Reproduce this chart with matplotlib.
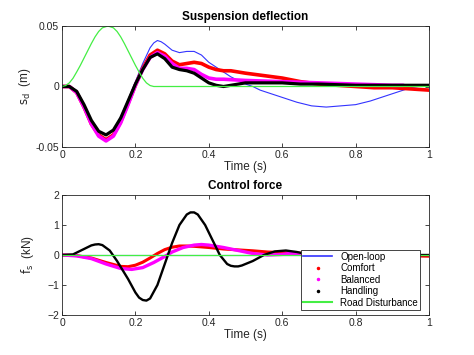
import matplotlib
matplotlib.use("Agg")
import matplotlib.pyplot as plt
from matplotlib.lines import Line2D

plt.rcParams['font.family'] = ['Liberation Sans', 'DejaVu Sans']

# ---- suspension deflection (m) ----
t_road = [0, 0.01, 0.02, 0.03, 0.04, 0.05, 0.06, 0.07, 0.08, 0.09, 0.10, 0.11, 0.125,
          0.14, 0.15, 0.16, 0.17, 0.18, 0.19, 0.20, 0.21, 0.22, 0.23, 0.24, 0.25, 1.0]
sd_road = [0, 0.0008, 0.003, 0.0068, 0.012, 0.0175, 0.0235, 0.0295, 0.0355, 0.041, 0.0455,
           0.0485, 0.050, 0.0485, 0.0455, 0.041, 0.0355, 0.0295, 0.0235, 0.0175, 0.012,
           0.0068, 0.003, 0.0008, 0, 0]

t_open = [0, 0.02, 0.04, 0.06, 0.08, 0.10, 0.12, 0.14, 0.16, 0.18, 0.20, 0.22, 0.24, 0.25,
          0.26, 0.27, 0.28, 0.30, 0.32, 0.34, 0.36, 0.38, 0.40, 0.42, 0.44, 0.46, 0.48, 0.50,
          0.52, 0.54, 0.56, 0.60, 0.64, 0.68, 0.72, 0.76, 0.80, 0.84, 0.88, 0.92, 0.95, 0.97, 1.0]
sd_open = [0, 0, -0.004, -0.015, -0.028, -0.037, -0.040, -0.036, -0.025, -0.011, 0.004, 0.019,
           0.032, 0.036, 0.038, 0.037, 0.035, 0.030, 0.028, 0.029, 0.029, 0.026, 0.020, 0.016,
           0.012, 0.008, 0.005, 0.002, 0.0, -0.003, -0.005, -0.009, -0.013, -0.016, -0.017,
           -0.016, -0.015, -0.012, -0.008, -0.004, -0.001, 0.0, 0.001]

t_comf = [0, 0.02, 0.04, 0.06, 0.08, 0.10, 0.12, 0.14, 0.16, 0.18, 0.20, 0.22, 0.24, 0.26,
          0.28, 0.30, 0.32, 0.34, 0.36, 0.38, 0.40, 0.42, 0.44, 0.46, 0.48, 0.50, 0.55, 0.60,
          0.65, 0.70, 0.75, 0.80, 0.85, 0.90, 0.95, 1.0]
sd_comf = [0, 0, -0.005, -0.017, -0.031, -0.040, -0.044, -0.040, -0.029, -0.014, 0.001, 0.015,
           0.026, 0.030, 0.027, 0.021, 0.018, 0.019, 0.020, 0.019, 0.016, 0.014, 0.013, 0.013,
           0.012, 0.011, 0.009, 0.007, 0.004, 0.002, 0.001, 0.0, -0.001, -0.001, -0.002, -0.003]

t_bal = [0, 0.02, 0.04, 0.06, 0.08, 0.10, 0.12, 0.14, 0.16, 0.18, 0.20, 0.22, 0.24, 0.26,
         0.28, 0.30, 0.32, 0.34, 0.36, 0.38, 0.40, 0.42, 0.44, 0.50, 0.60, 0.70, 0.80, 0.90, 0.93]
sd_bal = [0, 0, -0.005, -0.017, -0.031, -0.041, -0.045, -0.041, -0.030, -0.015, 0.001, 0.014,
          0.024, 0.028, 0.025, 0.019, 0.015, 0.015, 0.014, 0.010, 0.007, 0.006, 0.006, 0.005,
          0.004, 0.003, 0.002, 0.001, 0.001]

t_hand = [0, 0.02, 0.04, 0.06, 0.08, 0.10, 0.12, 0.14, 0.16, 0.18, 0.20, 0.22, 0.24, 0.26,
          0.28, 0.30, 0.32, 0.34, 0.36, 0.38, 0.40, 0.42, 0.44, 0.46, 0.48, 0.50, 0.55, 0.60,
          0.65, 0.70, 0.80, 0.90, 1.0]
sd_hand = [0, 0, -0.004, -0.015, -0.028, -0.037, -0.040, -0.036, -0.026, -0.012, 0.002, 0.014,
           0.024, 0.027, 0.023, 0.016, 0.014, 0.013, 0.011, 0.007, 0.003, 0.001, 0.0, 0.001,
           0.002, 0.003, 0.003, 0.003, 0.002, 0.002, 0.001, 0.001, 0.001]

# ---- control force (kN) ----
tf_open = [0, 1.0]
f_open = [0, 0]
tf_road = [0, 1.0]
f_road = [0, 0]

tf_comf = [0, 0.04, 0.08, 0.12, 0.16, 0.18, 0.20, 0.22, 0.24, 0.26, 0.28, 0.30, 0.32, 0.34,
           0.36, 0.40, 0.44, 0.48, 0.52, 0.56, 0.60, 0.65, 0.70, 0.80, 0.90, 1.0]
f_comf = [0, -0.02, -0.10, -0.25, -0.38, -0.39, -0.34, -0.24, -0.10, 0.05, 0.18, 0.26, 0.30,
          0.30, 0.29, 0.25, 0.20, 0.17, 0.14, 0.10, 0.08, 0.06, 0.05, 0.0, -0.02, -0.04]

tf_bal = [0, 0.04, 0.08, 0.12, 0.16, 0.19, 0.22, 0.25, 0.28, 0.30, 0.33, 0.36, 0.38, 0.40,
          0.44, 0.48, 0.52, 0.56, 0.60, 0.62, 0.66, 0.70]
f_bal = [0, -0.03, -0.12, -0.30, -0.45, -0.48, -0.42, -0.25, -0.05, 0.10, 0.25, 0.33, 0.35,
         0.33, 0.25, 0.15, 0.05, 0.0, 0.02, 0.05, 0.02, 0.0]

tf_hand = [0, 0.03, 0.06, 0.08, 0.09, 0.10, 0.11, 0.13, 0.15, 0.18, 0.20, 0.21, 0.22, 0.23,
           0.24, 0.26, 0.28, 0.30, 0.32, 0.34, 0.35, 0.36, 0.37, 0.39, 0.41, 0.43, 0.45,
           0.46, 0.47, 0.48, 0.49, 0.52, 0.55, 0.58, 0.61, 0.64, 0.67, 0.70, 1.0]
f_hand = [0, 0.02, 0.20, 0.32, 0.35, 0.36, 0.33, 0.15, -0.20, -0.80, -1.25, -1.42, -1.50,
          -1.52, -1.45, -1.00, -0.30, 0.40, 1.00, 1.35, 1.42, 1.42, 1.35, 1.00, 0.50, 0.0,
          -0.30, -0.36, -0.38, -0.38, -0.35, -0.20, 0.0, 0.12, 0.15, 0.10, 0.02, 0.0, 0.0]

fig = plt.figure(figsize=(4.74, 3.55), dpi=100)
ax1 = fig.add_axes([62 / 474, 1 - 147 / 355, 367 / 474, 121 / 355])
ax2 = fig.add_axes([62 / 474, 1 - 315 / 355, 367 / 474, 120 / 355])

blue, red, mag, blk, grn = '#3333ff', '#ff0000', '#ff00ff', '#000000', '#44ee44'

ax1.plot(t_open, sd_open, color=blue, lw=0.8)
ax1.plot(t_comf, sd_comf, color=red, lw=2.6, solid_capstyle='round')
ax1.plot(t_bal, sd_bal, color=mag, lw=2.6, solid_capstyle='round')
ax1.plot(t_hand, sd_hand, color=blk, lw=2.3, solid_capstyle='round')
ax1.plot(t_road, sd_road, color=grn, lw=0.9)

ax2.plot(tf_open, f_open, color=blue, lw=0.8)
ax2.plot(tf_comf, f_comf, color=red, lw=2.2, solid_capstyle='round')
ax2.plot(tf_bal, f_bal, color=mag, lw=2.4, solid_capstyle='round')
ax2.plot(tf_hand, f_hand, color=blk, lw=1.7, solid_capstyle='round')
ax2.plot(tf_road, f_road, color=grn, lw=0.9)

ax1.set_xlim(0, 1)
ax1.set_ylim(-0.05, 0.05)
ax1.set_yticks([-0.05, 0, 0.05])
ax1.set_yticklabels(['-0.05', '0', '0.05'])
ax2.set_xlim(0, 1)
ax2.set_ylim(-2, 2)
ax2.set_yticks([-2, -1, 0, 1, 2])

for ax in (ax1, ax2):
    ax.set_xticks([0, 0.2, 0.4, 0.6, 0.8, 1])
    ax.set_xticklabels(['0', '0.2', '0.4', '0.6', '0.8', '1'])
    ax.tick_params(direction='in', labelsize=7.5, length=3, width=0.6, top=True, right=True,
                   colors='#262626', pad=2)
    for s in ax.spines.values():
        s.set_linewidth(0.6)
        s.set_color('#262626')
    ax.set_xlabel('Time (s)', fontsize=8.5, labelpad=1, color='#262626')

ax1.set_title('Suspension deflection', fontsize=8.5, fontweight='bold', pad=4)
ax2.set_title('Control force', fontsize=8.5, fontweight='bold', pad=4)
ax1.set_ylabel(r'$\mathrm{s_d}$  (m)', fontsize=8.5, labelpad=2, color='#262626')
ax2.set_ylabel(r'$\mathrm{f_s}$  (kN)', fontsize=8.5, labelpad=8, color='#262626')

handles = [
    Line2D([], [], color=blue, lw=1.2),
    Line2D([], [], color=red, marker='.', ls='none', ms=3),
    Line2D([], [], color=mag, marker='.', ls='none', ms=3),
    Line2D([], [], color=blk, marker='.', ls='none', ms=3),
    Line2D([], [], color=grn, lw=1.5),
]
labels = ['Open-loop', 'Comfort', 'Balanced', 'Handling', 'Road Disturbance']
leg = ax2.legend(handles, labels, loc='lower right', bbox_to_anchor=(0.975, 0.045),
                 fontsize=7, fancybox=False, framealpha=1, edgecolor='#262626',
                 borderpad=0.2, labelspacing=0.15, handlelength=3.0, handletextpad=0.8,
                 borderaxespad=0)
leg.get_frame().set_linewidth(0.6)

fig.savefig('out.png', dpi=100)
